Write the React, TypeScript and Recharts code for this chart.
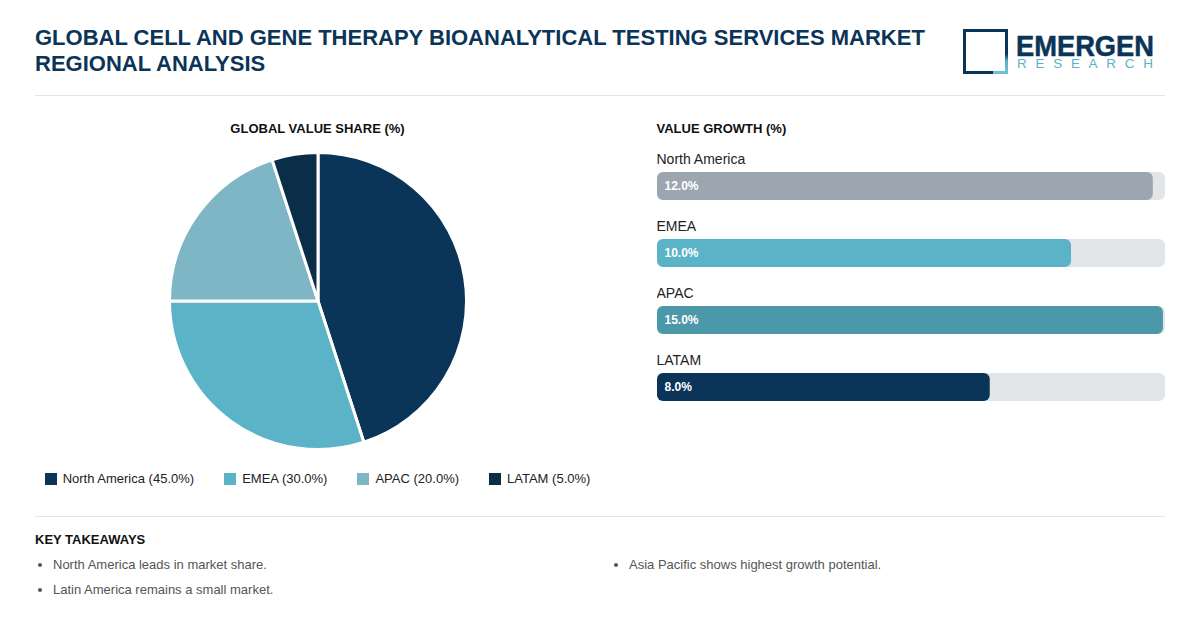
import { Bar, BarChart, Cell, LabelList, Pie, PieChart, XAxis, YAxis } from 'recharts';

const FONT = '"Liberation Sans", Arial, sans-serif';

const shareRegions = ['North America', 'EMEA', 'APAC', 'LATAM'];
const shareValues = [45, 30, 20, 5];
const shareColors = ['#0b3558', '#5ab3c6', '#7fb6c6', '#0a2d48'];

const growthRegions = ['North America', 'EMEA', 'APAC', 'LATAM'];
const growthValues = [12, 10, 15, 8];
// how far each bar fills its track in the picture (%), APAC is capped short of the end
const growthTrackFill = [97.6, 81.5, 99.6, 65.5];
const growthColors = ['#9ca6b0', '#5ab3c6', '#4d98a8', '#0b3558'];

const takeaways = [
  'North America leads in market share.',
  'Asia Pacific shows highest growth potential.',
  'Latin America remains a small market.',
];

const shareData = shareRegions.map((name, i) => ({ name, value: shareValues[i] }));
const growthData = growthRegions.map((name, i) => ({
  name,
  growth: growthValues[i],
  fill: growthTrackFill[i],
}));

function RegionName({ x, y, value }: any) {
  return (
    <text x={x - 0.5} y={y - 8} fontSize={14} fill="#222222" fontFamily={FONT}>
      {value}
    </text>
  );
}

function GrowthValue({ x, y, height, value }: any) {
  return (
    <text
      x={x + 7.5}
      y={y + height / 2 + 4}
      fontSize={12}
      fontWeight={700}
      fill="#ffffff"
      fontFamily={FONT}
    >
      {value.toFixed(1)}%
    </text>
  );
}

function Logo() {
  return (
    <svg
      width={215}
      height={60}
      viewBox="0 0 215 60"
      style={{ position: 'absolute', left: 960, top: 22 }}
    >
      <defs>
        <linearGradient id="logoTeal" x1="0" y1="0" x2="0" y2="1">
          <stop offset="0" stopColor="#0b3558" />
          <stop offset="0.4" stopColor="#5ab3c6" />
          <stop offset="1" stopColor="#6fc0d2" />
        </linearGradient>
      </defs>
      <path d="M46.5 32 V8.5 H4.5 V50.5 H33" fill="none" stroke="#0b3558" strokeWidth={3} />
      <path d="M46.5 32 V50.5 H33" fill="none" stroke="url(#logoTeal)" strokeWidth={3} />
      <text
        x={56}
        y={34}
        fontSize={29}
        fontWeight={700}
        fill="#0b3558"
        stroke="#0b3558"
        strokeWidth={0.5}
        fontFamily={FONT}
        textLength={138}
        lengthAdjust="spacingAndGlyphs"
      >
        EMERGEN
      </text>
      <text
        x={57}
        y={46}
        fontSize={13.5}
        fill="#5ab3c6"
        fontFamily={FONT}
        textLength={136}
        lengthAdjust="spacing"
      >
        RESEARCH
      </text>
    </svg>
  );
}

export default function App() {
  return (
    <div
      style={{
        position: 'absolute',
        left: 0,
        top: 0,
        width: 1200,
        height: 620,
        background: '#ffffff',
        fontFamily: FONT,
        overflow: 'hidden',
      }}
    >
      <div
        style={{
          position: 'absolute',
          left: 35,
          top: 25,
          width: 910,
          fontSize: 22,
          lineHeight: '26px',
          fontWeight: 700,
          color: '#0b3558',
        }}
      >
        GLOBAL CELL AND GENE THERAPY BIOANALYTICAL TESTING SERVICES MARKET REGIONAL ANALYSIS
      </div>
      <Logo />
      <div style={{ position: 'absolute', left: 35, top: 95, width: 1130, height: 1, background: '#e2e5e8' }} />

      <div
        style={{
          position: 'absolute',
          left: 35,
          top: 121,
          width: 565,
          textAlign: 'center',
          fontSize: 13,
          fontWeight: 700,
          color: '#111111',
        }}
      >
        GLOBAL VALUE SHARE (%)
      </div>
      <div style={{ position: 'absolute', left: 166.5, top: 150 }}>
        <PieChart width={302} height={302} margin={{ top: 0, right: 0, bottom: 0, left: 0 }}>
          <Pie
            data={shareData}
            dataKey="value"
            nameKey="name"
            cx="50%"
            cy="50%"
            innerRadius={0}
            outerRadius={148.5}
            startAngle={90}
            endAngle={-270}
            stroke="#ffffff"
            strokeWidth={3}
            isAnimationActive={false}
          >
            {shareColors.map((color) => (
              <Cell key={color} fill={color} />
            ))}
          </Pie>
        </PieChart>
      </div>
      <div
        style={{
          position: 'absolute',
          left: 35,
          top: 471,
          width: 565,
          display: 'flex',
          justifyContent: 'center',
          gap: 30,
          fontSize: 13,
          lineHeight: '15px',
          color: '#222222',
        }}
      >
        {shareData.map((d, i) => (
          <div key={d.name} style={{ display: 'flex', alignItems: 'center', gap: 6 }}>
            <span style={{ width: 12, height: 12, background: shareColors[i] }} />
            <span>
              {d.name} ({d.value.toFixed(1)}%)
            </span>
          </div>
        ))}
      </div>

      <div
        style={{
          position: 'absolute',
          left: 656.5,
          top: 121,
          fontSize: 13,
          fontWeight: 700,
          color: '#111111',
        }}
      >
        VALUE GROWTH (%)
      </div>
      <div style={{ position: 'absolute', left: 657, top: 152 }}>
        <BarChart
          width={508}
          height={268}
          data={growthData}
          layout="vertical"
          margin={{ top: 0, right: 0, bottom: 0, left: 0 }}
        >
          <XAxis type="number" domain={[0, 100]} hide />
          <YAxis type="category" dataKey="name" hide />
          <Bar
            dataKey="fill"
            barSize={28}
            radius={6}
            background={{ fill: '#e1e5e8', radius: 6 }}
            isAnimationActive={false}
          >
            {growthColors.map((color) => (
              <Cell key={color} fill={color} />
            ))}
            <LabelList dataKey="name" content={RegionName} />
            <LabelList dataKey="growth" content={GrowthValue} />
          </Bar>
        </BarChart>
      </div>

      <div style={{ position: 'absolute', left: 35, top: 516, width: 1130, height: 1, background: '#e2e5e8' }} />
      <div
        style={{
          position: 'absolute',
          left: 35,
          top: 532,
          fontSize: 13,
          fontWeight: 700,
          color: '#111111',
        }}
      >
        KEY TAKEAWAYS
      </div>
      <ul
        style={{
          position: 'absolute',
          left: 35,
          top: 557,
          width: 1130,
          margin: 0,
          padding: 0,
          display: 'grid',
          gridTemplateColumns: '554px 554px',
          columnGap: 22,
          rowGap: 10,
          fontSize: 13,
          lineHeight: '15px',
          color: '#555555',
        }}
      >
        {takeaways.map((t) => (
          <li key={t} style={{ marginLeft: 18 }}>
            {t}
          </li>
        ))}
      </ul>
    </div>
  );
}
